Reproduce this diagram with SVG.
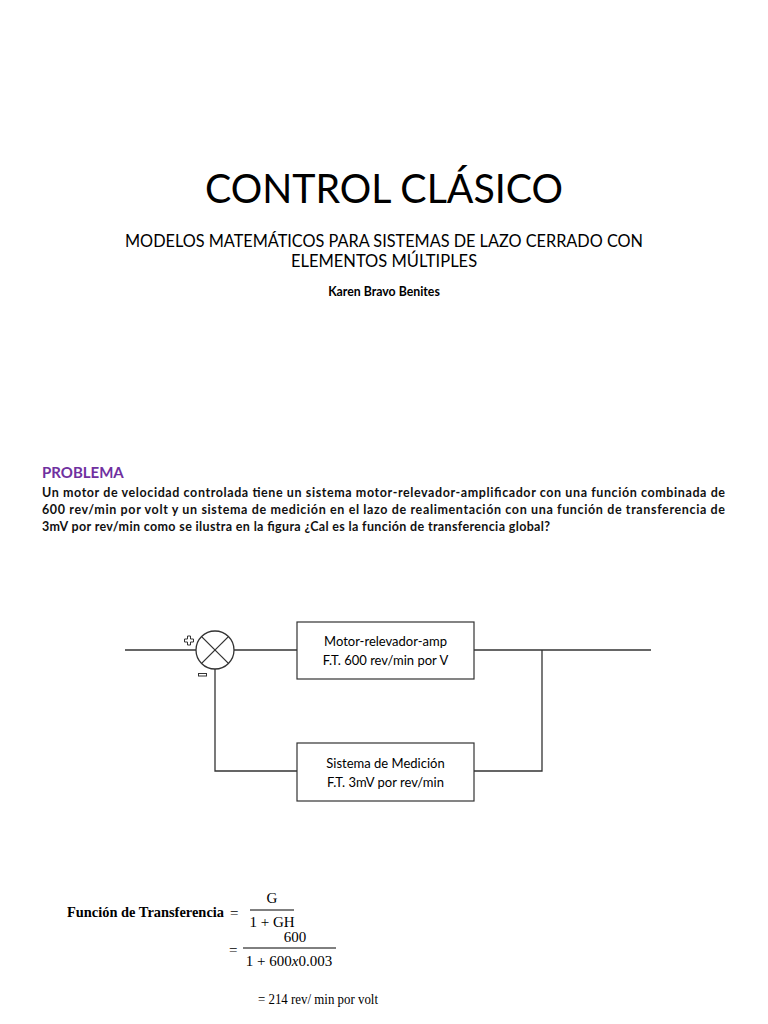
<svg xmlns="http://www.w3.org/2000/svg" width="768" height="1024" viewBox="0 0 768 1024">
<style>
.s{font-family:Lato,"Open Sans","Liberation Sans",sans-serif;fill:#000}
.ln{stroke:#333;stroke-width:1.3;fill:none}
.box{stroke:#333;stroke-width:1.2;fill:#fff}
.bt{font-family:Lato,"Open Sans","Liberation Sans",sans-serif;font-size:13px;text-anchor:middle;fill:#000}
.p{font-family:Lato,"Open Sans","Liberation Sans",sans-serif;font-size:12.5px;font-weight:bold;fill:#111}
.m{font-family:"Liberation Serif","DejaVu Serif",serif;font-size:15px;fill:#000}
</style>
<rect width="768" height="1024" fill="#fff"/>
<text class="s" x="384" y="203" font-size="40" text-anchor="middle" textLength="358" lengthAdjust="spacingAndGlyphs">CONTROL CLÁSICO</text>
<text class="s" x="384" y="247" font-size="16.5" text-anchor="middle" textLength="518" lengthAdjust="spacingAndGlyphs">MODELOS MATEMÁTICOS PARA SISTEMAS DE LAZO CERRADO CON</text>
<text class="s" x="384" y="267" font-size="16.5" text-anchor="middle">ELEMENTOS MÚLTIPLES</text>
<text class="s" x="384" y="296" font-size="12.3" font-weight="bold" text-anchor="middle">Karen Bravo Benites</text>
<text class="s" x="42" y="478" font-size="15" font-weight="bold" style="fill:#7030A0">PROBLEMA</text>
<text class="p" x="42" y="497" textLength="683" lengthAdjust="spacing">Un motor de velocidad controlada tiene un sistema motor-relevador-amplificador con una función combinada de</text>
<text class="p" x="42" y="514" textLength="683" lengthAdjust="spacing">600 rev/min por volt y un sistema de medición en el lazo de realimentación con una función de transferencia de</text>
<text class="p" x="42" y="531" textLength="508" lengthAdjust="spacing">3mV por rev/min como se ilustra en la figura ¿Cal es la función de transferencia global?</text>
<g id="connectors">
<line class="ln" x1="125" y1="650" x2="196" y2="650"/>
<line class="ln" x1="234" y1="650" x2="297" y2="650"/>
<line class="ln" x1="474" y1="650" x2="651" y2="650"/>
<polyline class="ln" points="542,650 542,771 474,771"/>
<polyline class="ln" points="297,771 215,771 215,669"/>
</g>
<g id="sum">
<circle cx="215" cy="650" r="19" class="ln" fill="#fff"/>
<line class="ln" x1="201.6" y1="636.6" x2="228.4" y2="663.4"/>
<line class="ln" x1="228.4" y1="636.6" x2="201.6" y2="663.4"/>
<path d="M187.5,636 h3 v3 h3 v3 h-3 v3 h-3 v-3 h-3 v-3 h3 z" fill="#fff" stroke="#333" stroke-width="1"/>
<rect x="198.5" y="673.5" width="8" height="2.5" fill="#fff" stroke="#333" stroke-width="1"/>
</g>
<g id="motor">
<rect class="box" x="297" y="622" width="177" height="57"/>
<text class="bt" x="385.5" y="646">Motor-relevador-amp</text>
<text class="bt" x="385.5" y="665">F.T. 600 rev/min por V</text>
</g>
<g id="medicion">
<rect class="box" x="297" y="743" width="177" height="58"/>
<text class="bt" x="385.5" y="768">Sistema de Medición</text>
<text class="bt" x="385.5" y="787">F.T. 3mV por rev/min</text>
</g>
<g id="formula">
<text class="m" x="67" y="917" font-weight="bold" textLength="157" lengthAdjust="spacingAndGlyphs">Función de Transferencia</text>
<text class="m" x="230" y="918">=</text>
<text class="m" x="272" y="903" text-anchor="middle">G</text>
<line x1="250" y1="910" x2="294" y2="910" stroke="#000" stroke-width="1"/>
<text class="m" x="272" y="927" text-anchor="middle">1 + GH</text>
<text class="m" x="229" y="955">=</text>
<text class="m" x="295" y="942" text-anchor="middle">600</text>
<line x1="243" y1="948" x2="336" y2="948" stroke="#000" stroke-width="1"/>
<text class="m" x="289" y="966" text-anchor="middle">1 + 600<tspan font-style="italic">x</tspan>0.003</text>
<text class="m" x="258" y="1004" textLength="120" lengthAdjust="spacingAndGlyphs">= 214 rev/ min por volt</text>
</g>
</svg>
